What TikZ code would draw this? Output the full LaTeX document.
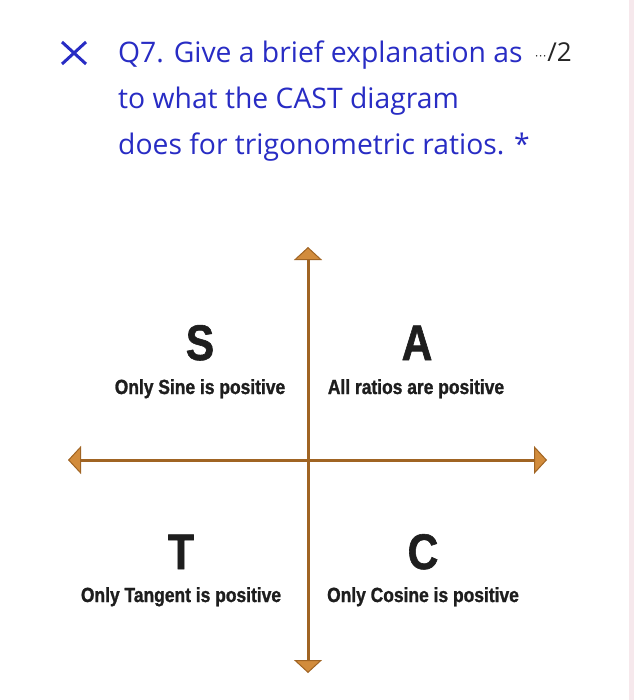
\documentclass[tikz,border=0pt]{standalone}
\usepackage{fontspec}
\setmainfont{Open Sans}[Ligatures={NoCommon,NoContextual}]
\newfontfamily\condfont[FakeStretch=0.85,FakeBold=1.2]{Liberation Sans}
\usetikzlibrary{arrows.meta}
\definecolor{qblue}{RGB}{40,44,196}
\definecolor{axisbrown}{RGB}{160,100,35}
\definecolor{tipbrown}{RGB}{210,140,60}
\definecolor{edgepink}{RGB}{246,232,236}
\definecolor{textgray}{RGB}{30,30,30}
\tikzset{
  question/.style={anchor=base west, text=qblue, inner sep=0pt,
    font=\fontsize{28.3}{28}\selectfont},
  quadletter/.style={anchor=base, text=textgray, inner sep=0pt,
    font=\condfont\bfseries\fontsize{50}{50}\selectfont},
  quadtext/.style={anchor=base, text=textgray, inner sep=0pt,
    font=\condfont\bfseries\fontsize{20.5}{21}\selectfont},
  axistip/.tip={Triangle[width=28pt,length=13pt,line width=1pt,fill=tipbrown]},
  axis/.style={draw=axisbrown, line width=3pt, axistip-axistip}
}

\begin{document}
\begin{tikzpicture}[x=1pt,y=-1pt]
    \useasboundingbox[fill=white] (0,0) rectangle (634,700);
    \fill[edgepink] (629,0) rectangle (634,700);
    % question
    \draw[qblue,line width=3pt] (62,42) -- (86,64);
    \draw[qblue,line width=3pt] (62,64) -- (86,42);
    \node[question] (q1) at (118,63) {Q7. Give a brief explanation as};
    \node[question] (q2) at (118,109) {to what the CAST diagram};
    \node[question] (q3) at (118,155) {does for trigonometric ratios. *};
    \node[question,text=black!85,font=\fontsize{26}{26}\selectfont] (pts) at (535,62) {\raisebox{1pt}{\fontsize{12}{12}\selectfont ·\kern0.8pt·\kern0.8pt·}\kern1pt/2};
    % axes
    \coordinate (top) at (308,247);
    \coordinate (bottom) at (308,673);
    \coordinate (left) at (68,460);
    \coordinate (right) at (547,460);
    \draw[axis] (bottom) -- (top);
    \draw[axis] (left) -- (right);
    % quadrants
    \node[quadletter] (S) at (200,360) {S};
    \node[quadtext] (sine) at (200,394) {Only Sine is positive};
    \node[quadletter] (A) at (417,360) {A};
    \node[quadtext] (all) at (416,394) {All ratios are positive};
    \node[quadletter] (T) at (181,569) {T};
    \node[quadtext] (tangent) at (181,602) {Only Tangent is positive};
    \node[quadletter] (C) at (423,569) {C};
    \node[quadtext] (cosine) at (423,602) {Only Cosine is positive};
\end{tikzpicture}
\end{document}
